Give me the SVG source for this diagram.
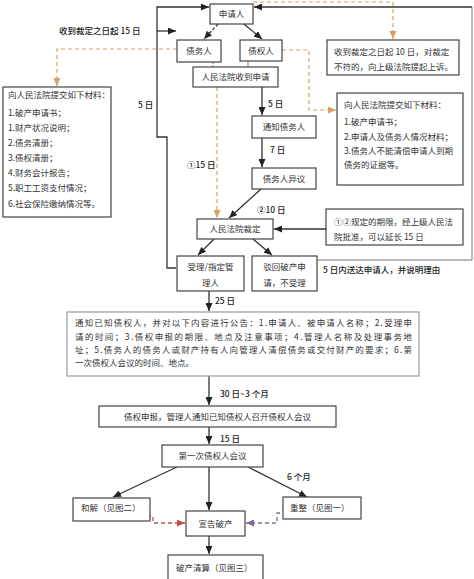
<svg xmlns="http://www.w3.org/2000/svg" width="474" height="579" viewBox="0 0 474 579">
<style>
.b{fill:#fff;stroke:#444;stroke-width:1.2}
.bg{fill:#fff;stroke:#999;stroke-width:1.2}
.t{font-family:"Noto Sans CJK SC","Noto Sans",sans-serif;font-size:8.5px;fill:#333}
.c{text-anchor:middle}
.n{font-weight:500;fill:#222}
.l{fill:none;stroke:#333;stroke-width:1.3}
.lg{fill:none;stroke:#777;stroke-width:1}
.d{fill:none;stroke:#333;stroke-width:1.3;stroke-dasharray:3 2}
.o{fill:none;stroke:#d9a066;stroke-width:1.2;stroke-dasharray:4 3}
.r{fill:none;stroke:#c0504d;stroke-width:1.3;stroke-dasharray:4 3}
.p{fill:none;stroke:#7f6a9c;stroke-width:1.3;stroke-dasharray:4 3}
</style>
<defs>
<marker id="ak" markerUnits="userSpaceOnUse" markerWidth="8" markerHeight="7" refX="8" refY="3.5" orient="auto"><path d="M0,0 L8,3.5 L0,7 z" fill="#222"/></marker>
<marker id="ao" markerUnits="userSpaceOnUse" markerWidth="8" markerHeight="7" refX="8" refY="3.5" orient="auto"><path d="M0,0 L8,3.5 L0,7 z" fill="#d9a066"/></marker>
<marker id="ar" markerUnits="userSpaceOnUse" markerWidth="8" markerHeight="7" refX="8" refY="3.5" orient="auto"><path d="M0,0 L8,3.5 L0,7 z" fill="#c0504d"/></marker>
<marker id="ap" markerUnits="userSpaceOnUse" markerWidth="8" markerHeight="7" refX="8" refY="3.5" orient="auto"><path d="M0,0 L8,3.5 L0,7 z" fill="#7f6a9c"/></marker>
</defs>
<rect width="474" height="579" fill="#fff"/>

<g id="connectors">
<polyline class="l" points="176,268 167,268 167,137 157,137 157,7 209,7" marker-end="url(#ak)"/>
<line class="l" x1="157" y1="31" x2="176" y2="31" marker-end="url(#ak)"/>
<polyline class="lg" points="317,260 472,260 472,7"/>
<line class="l" x1="472" y1="7" x2="254" y2="7" marker-end="url(#ak)"/>
<polyline class="o" points="253,2 393,2 393,39" marker-end="url(#ao)"/>
<line class="d" x1="218" y1="24" x2="204" y2="39" marker-end="url(#ak)"/>
<line class="l" x1="244" y1="24" x2="262" y2="39" marker-end="url(#ak)"/>
<line class="lg" x1="213" y1="62" x2="213" y2="67" stroke-dasharray="2 1"/>
<line class="lg" x1="248" y1="61" x2="248" y2="67"/>
<polyline class="o" points="177,49 57,49 57,86" marker-end="url(#ao)"/>
<polyline class="o" points="282,50 309,50 309,110 336,110" marker-end="url(#ao)"/>
<line class="o" x1="217" y1="87" x2="217" y2="218" marker-end="url(#ao)"/>
<line class="l" x1="262" y1="87" x2="262" y2="115" marker-end="url(#ak)"/>
<line class="l" x1="262" y1="138" x2="262" y2="167" marker-end="url(#ak)"/>
<line class="l" x1="261" y1="189" x2="229" y2="218" marker-end="url(#ak)"/>
<line class="l" x1="326" y1="229" x2="274" y2="229" marker-end="url(#ak)"/>
<line class="l" x1="214" y1="239" x2="198" y2="255" marker-end="url(#ak)"/>
<line class="l" x1="253" y1="239" x2="272" y2="255" marker-end="url(#ak)"/>
<line class="l" x1="209" y1="291" x2="209" y2="311" marker-end="url(#ak)"/>
<line class="l" x1="209" y1="376" x2="209" y2="405" marker-end="url(#ak)"/>
<line class="l" x1="209" y1="427" x2="209" y2="444" marker-end="url(#ak)"/>
<line class="l" x1="177" y1="467" x2="113" y2="497" marker-end="url(#ak)"/>
<line class="l" x1="209" y1="467" x2="209" y2="510" marker-end="url(#ak)"/>
<line class="l" x1="248" y1="467" x2="307" y2="497" marker-end="url(#ak)"/>
<polyline class="r" points="119,516 153,516 153,523 185,523" marker-end="url(#ar)"/>
<polyline class="p" points="308,513 277,513 277,523 246,523" marker-end="url(#ap)"/>
<line class="l" x1="209" y1="536" x2="209" y2="554" marker-end="url(#ak)"/>
<text class="t n" x="59" y="34">收到裁定之日起 15 日</text>
<text class="t n" x="138" y="108">5 日</text>
<text class="t n" x="268" y="107">5 日</text>
<text class="t n" x="270" y="153">7 日</text>
<text class="t n" x="187" y="168">①15 日</text>
<text class="t n" x="257" y="213">②10 日</text>
<text class="t n" x="323" y="273">5 日内送达申请人，并说明理由</text>
<text class="t n" x="215" y="304">25 日</text>
<text class="t n" x="220" y="397">30 日~3 个月</text>
<text class="t n" x="220" y="442">15 日</text>
<text class="t n" x="287" y="480">6 个月</text>
</g>

<g id="n1"><rect class="b" x="210" y="4" width="43" height="20"/><text class="t c" x="231.5" y="17">申请人</text></g>
<g id="n2"><rect class="b" x="177" y="40" width="44" height="22"/><text class="t c" x="199" y="54">债务人</text></g>
<g id="n3"><rect class="b" x="240" y="40" width="42" height="21"/><text class="t c" x="261" y="54">债权人</text></g>
<g id="n4"><rect class="b" x="193" y="67" width="85" height="20"/><text class="t c" x="235.5" y="80">人民法院收到申请</text></g>
<g id="n5"><rect class="b" x="3" y="87" width="108" height="130"/>
<text class="t" x="8" y="98">向人民法院提交如下材料：</text>
<text class="t" x="8" y="116">1.破产申请书；</text>
<text class="t" x="8" y="131">1.财产状况说明；</text>
<text class="t" x="8" y="146">2.债务清册；</text>
<text class="t" x="8" y="161">3.债权清册；</text>
<text class="t" x="8" y="176">4.财务会计报告；</text>
<text class="t" x="8" y="191">5.职工工资支付情况；</text>
<text class="t" x="8" y="207">6.社会保险缴纳情况等。</text></g>
<g id="n6"><rect class="b" x="327" y="40" width="132" height="35"/>
<text class="t" x="334" y="55">收到裁定之日起 10 日，对裁定</text>
<text class="t" x="334" y="70">不符的，向上级法院提起上诉。</text></g>
<g id="n7"><rect class="b" x="337" y="93" width="126" height="92"/>
<text class="t" x="344" y="108">向人民法院提交如下材料：</text>
<text class="t" x="344" y="125">1.破产申请书；</text>
<text class="t" x="344" y="140">2.申请人及债务人情况材料；</text>
<text class="t" x="344" y="154">3.债务人不能清偿申请人到期</text>
<text class="t" x="344" y="168">债务的证据等。</text></g>
<g id="n8"><rect class="b" x="252" y="116" width="64" height="22"/><text class="t c" x="284" y="130">通知债务人</text></g>
<g id="n9"><rect class="b" x="252" y="168" width="64" height="21"/><text class="t c" x="284" y="181.5">债务人异议</text></g>
<g id="n10"><rect class="b" x="197" y="219" width="76" height="20"/><text class="t c" x="235" y="232">人民法院裁定</text></g>
<g id="n11"><rect class="b" x="326" y="209" width="137" height="36"/>
<text class="t" x="334" y="225">①②规定的期限，经上级人民法</text>
<text class="t" x="334" y="240">院批准，可以延长 15 日</text></g>
<g id="n12"><rect class="b" x="177" y="256" width="67" height="35"/>
<text class="t c" x="210.5" y="270">受理/指定管</text>
<text class="t c" x="210.5" y="286">理人</text></g>
<g id="n13"><rect class="b" x="252" y="256" width="65" height="35"/>
<text class="t c" x="284.5" y="270">驳回破产申</text>
<text class="t c" x="284.5" y="286">请，不受理</text></g>
<g id="n14"><rect class="bg" x="67" y="312" width="352" height="64"/>
<text class="t" x="75" y="326" textLength="337" lengthAdjust="spacing">通知已知债权人，并对以下内容进行公告：1.申请人、被申请人名称；2.受理申</text>
<text class="t" x="75" y="340" textLength="337" lengthAdjust="spacing">请的时间；3.债权申报的期限、地点及注意事项；4.管理人名称及处理事务地</text>
<text class="t" x="75" y="353" textLength="337" lengthAdjust="spacing">址；5.债务人的债务人或财产持有人向管理人清偿债务或交付财产的要求；6.第</text>
<text class="t" x="75" y="366">一次债权人会议的时间、地点。</text></g>
<g id="n15"><rect class="b" x="99" y="406" width="237" height="21"/><text class="t c" x="217.5" y="419.5">债权申报，管理人通知已知债权人召开债权人会议</text></g>
<g id="n16"><rect class="b" x="162" y="445" width="101" height="22"/><text class="t c" x="212.5" y="459">第一次债权人会议</text></g>
<g id="n17"><rect class="b" x="73" y="498" width="77" height="23"/><text class="t" x="81" y="511">和解（见图二）</text></g>
<g id="n18"><rect class="b" x="186" y="511" width="59" height="25"/><text class="t c" x="215.5" y="526.5">宣告破产</text></g>
<g id="n19"><rect class="b" x="283" y="497" width="78" height="22"/><text class="t" x="290" y="511">重整（见图一）</text></g>
<g id="n20"><rect class="b" x="168" y="555" width="95" height="30"/><text class="t" x="176" y="571">破产清算（见图三）</text></g>
</svg>
